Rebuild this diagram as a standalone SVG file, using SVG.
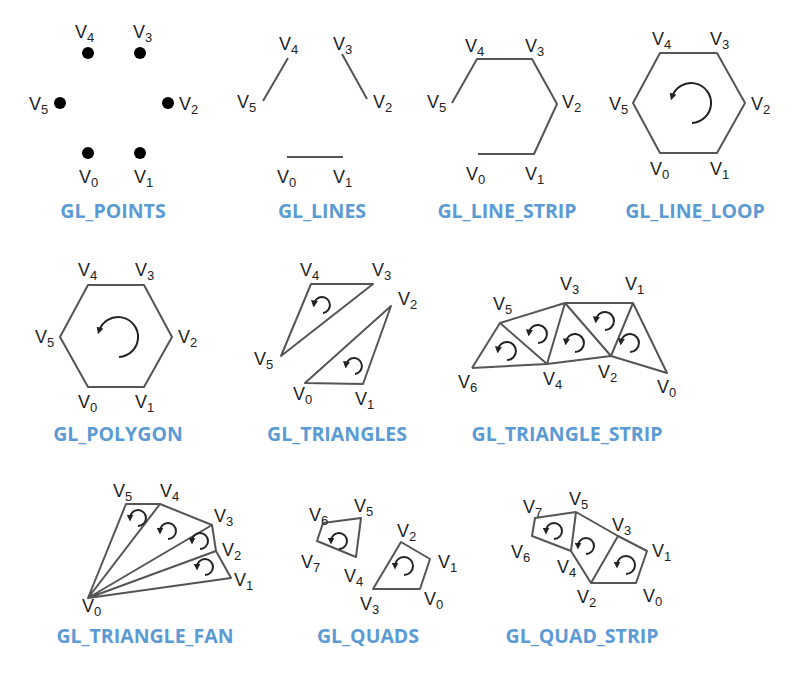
<svg xmlns="http://www.w3.org/2000/svg" width="797" height="676" viewBox="0 0 797 676">
<style>
.v{font-family:"Liberation Sans",Arial,sans-serif;font-size:18px;fill:#222}
.s{font-size:13px}
.t{font-family:"Open Sans","Liberation Sans",sans-serif;font-weight:bold;font-size:19.5px;fill:#5b9bd5;text-anchor:middle}
.e{fill:none;stroke:#555;stroke-width:2;stroke-linejoin:round}
.a{fill:none;stroke:#222;stroke-width:2;marker-end:url(#ah)}
</style>
<defs>
<marker id="ah" viewBox="0 0 10 10" refX="5" refY="5" markerWidth="3.5" markerHeight="3.5" orient="auto" markerUnits="strokeWidth"><path d="M0,0L10,5L0,10z" fill="#222"/></marker>
</defs>
<rect width="797" height="676" fill="#fff"/>
<g id="points">
<circle cx="88" cy="53" r="6"/><circle cx="140" cy="53" r="6"/><circle cx="60" cy="103" r="6"/><circle cx="168" cy="103" r="6"/><circle cx="88" cy="153" r="6"/><circle cx="140" cy="153" r="6"/>
<text class="v" x="75" y="38">V<tspan class="s" dy="4">4</tspan></text>
<text class="v" x="133" y="38">V<tspan class="s" dy="4">3</tspan></text>
<text class="v" x="29" y="110">V<tspan class="s" dy="4">5</tspan></text>
<text class="v" x="179" y="110">V<tspan class="s" dy="4">2</tspan></text>
<text class="v" x="79" y="183">V<tspan class="s" dy="4">0</tspan></text>
<text class="v" x="134" y="183">V<tspan class="s" dy="4">1</tspan></text>
<text class="t" x="113" y="218">GL_POINTS</text>
</g>
<g id="lines">
<path class="e" d="M288,58L263,101M342,54L367,99M287,157L343,157"/>
<text class="v" x="279" y="50">V<tspan class="s" dy="4">4</tspan></text>
<text class="v" x="333" y="50">V<tspan class="s" dy="4">3</tspan></text>
<text class="v" x="237" y="108">V<tspan class="s" dy="4">5</tspan></text>
<text class="v" x="373" y="108">V<tspan class="s" dy="4">2</tspan></text>
<text class="v" x="277" y="183">V<tspan class="s" dy="4">0</tspan></text>
<text class="v" x="333" y="183">V<tspan class="s" dy="4">1</tspan></text>
<text class="t" x="322" y="218">GL_LINES</text>
</g>
<g id="linestrip">
<path class="e" d="M452,103L477,59L532,59L557,104L534,154L478,154"/>
<text class="v" x="465" y="52">V<tspan class="s" dy="4">4</tspan></text>
<text class="v" x="525" y="52">V<tspan class="s" dy="4">3</tspan></text>
<text class="v" x="427" y="108">V<tspan class="s" dy="4">5</tspan></text>
<text class="v" x="562" y="108">V<tspan class="s" dy="4">2</tspan></text>
<text class="v" x="466" y="180">V<tspan class="s" dy="4">0</tspan></text>
<text class="v" x="525" y="180">V<tspan class="s" dy="4">1</tspan></text>
<text class="t" x="507" y="218">GL_LINE_STRIP</text>
</g>
<g id="lineloop">
<path class="e" d="M660,53L717,53L745,103L717,153L660,153L633,103Z"/>
<path class="a" d="M692,123A20,20 0 1 0 672,97"/>
<text class="v" x="652" y="45">V<tspan class="s" dy="4">4</tspan></text>
<text class="v" x="710" y="45">V<tspan class="s" dy="4">3</tspan></text>
<text class="v" x="609" y="110">V<tspan class="s" dy="4">5</tspan></text>
<text class="v" x="751" y="110">V<tspan class="s" dy="4">2</tspan></text>
<text class="v" x="650" y="175">V<tspan class="s" dy="4">0</tspan></text>
<text class="v" x="710" y="175">V<tspan class="s" dy="4">1</tspan></text>
<text class="t" x="695" y="218">GL_LINE_LOOP</text>
</g>
<g id="polygon">
<path class="e" d="M88,285L144,285L172,337L144,387L88,387L60,337Z"/>
<path class="a" d="M119,357A20,20 0 1 0 99,331"/>
<text class="v" x="78" y="276">V<tspan class="s" dy="4">4</tspan></text>
<text class="v" x="135" y="276">V<tspan class="s" dy="4">3</tspan></text>
<text class="v" x="35" y="343">V<tspan class="s" dy="4">5</tspan></text>
<text class="v" x="178" y="343">V<tspan class="s" dy="4">2</tspan></text>
<text class="v" x="78" y="408">V<tspan class="s" dy="4">0</tspan></text>
<text class="v" x="135" y="408">V<tspan class="s" dy="4">1</tspan></text>
<text class="t" x="118" y="441">GL_POLYGON</text>
</g>
<g id="triangles">
<path class="e" d="M311,284L373,284L281,356ZM391,306L363,384L305,383Z"/>
<path class="a" d="M323,313A8,8 0 1 0 314,304"/>
<path class="a" d="M355,374A8,8 0 1 0 346,365"/>
<text class="v" x="300" y="276">V<tspan class="s" dy="4">4</tspan></text>
<text class="v" x="372" y="276">V<tspan class="s" dy="4">3</tspan></text>
<text class="v" x="254" y="365">V<tspan class="s" dy="4">5</tspan></text>
<text class="v" x="398" y="305">V<tspan class="s" dy="4">2</tspan></text>
<text class="v" x="293" y="400">V<tspan class="s" dy="4">0</tspan></text>
<text class="v" x="355" y="405">V<tspan class="s" dy="4">1</tspan></text>
<text class="t" x="337" y="441">GL_TRIANGLES</text>
</g>
<g id="trianglestrip">
<path class="e" d="M472,368L500,323L565,303L633,303L667,373L611,356L547,364L472,368M500,323L547,364L565,303L611,356L633,303"/>
<path class="a" d="M507,360A9,9 0 1 0 498,350"/>
<path class="a" d="M538,343A9,9 0 1 0 529,333"/>
<path class="a" d="M575,352A9,9 0 1 0 566,342"/>
<path class="a" d="M605,330A9,9 0 1 0 596,320"/>
<path class="a" d="M630,352A9,9 0 1 0 621,342"/>
<text class="v" x="493" y="310">V<tspan class="s" dy="4">5</tspan></text>
<text class="v" x="560" y="290">V<tspan class="s" dy="4">3</tspan></text>
<text class="v" x="625" y="290">V<tspan class="s" dy="4">1</tspan></text>
<text class="v" x="458" y="388">V<tspan class="s" dy="4">6</tspan></text>
<text class="v" x="543" y="385">V<tspan class="s" dy="4">4</tspan></text>
<text class="v" x="598" y="378">V<tspan class="s" dy="4">2</tspan></text>
<text class="v" x="657" y="393">V<tspan class="s" dy="4">0</tspan></text>
<text class="t" x="567" y="441">GL_TRIANGLE_STRIP</text>
</g>
<g id="trianglefan">
<path class="e" d="M88,598L126,504L160,504L212,525L216,551L231,578ZM88,598L160,504M88,598L212,525M88,598L216,551"/>
<path class="a" d="M138,526A8,8 0 1 0 130,518"/>
<path class="a" d="M168,539A8,8 0 1 0 160,531"/>
<path class="a" d="M200,549A8,8 0 1 0 192,541"/>
<path class="a" d="M205,575A8,8 0 1 0 197,567"/>
<text class="v" x="113" y="497">V<tspan class="s" dy="4">5</tspan></text>
<text class="v" x="160" y="497">V<tspan class="s" dy="4">4</tspan></text>
<text class="v" x="214" y="522">V<tspan class="s" dy="4">3</tspan></text>
<text class="v" x="222" y="556">V<tspan class="s" dy="4">2</tspan></text>
<text class="v" x="234" y="586">V<tspan class="s" dy="4">1</tspan></text>
<text class="v" x="82" y="612">V<tspan class="s" dy="4">0</tspan></text>
<text class="t" x="145" y="643">GL_TRIANGLE_FAN</text>
</g>
<g id="quads">
<path class="e" d="M323,523L361,518L356,557L317,541ZM401,542L430,559L420,589L373,589Z"/>
<path class="a" d="M339,549A8,8 0 1 0 331,541"/>
<path class="a" d="M404,575A9,9 0 1 0 395,566"/>
<text class="v" x="309" y="521">V<tspan class="s" dy="4">6</tspan></text>
<text class="v" x="354" y="512">V<tspan class="s" dy="4">5</tspan></text>
<text class="v" x="301" y="568">V<tspan class="s" dy="4">7</tspan></text>
<text class="v" x="344" y="582">V<tspan class="s" dy="4">4</tspan></text>
<text class="v" x="397" y="537">V<tspan class="s" dy="4">2</tspan></text>
<text class="v" x="438" y="568">V<tspan class="s" dy="4">1</tspan></text>
<text class="v" x="360" y="610">V<tspan class="s" dy="4">3</tspan></text>
<text class="v" x="424" y="605">V<tspan class="s" dy="4">0</tspan></text>
<text class="t" x="368" y="643">GL_QUADS</text>
</g>
<g id="quadstrip">
<path class="e" d="M535,518L576,512L618,536L647,551L636,583L591,583L571,551L532,536ZM576,512L571,551M618,536L591,583"/>
<path class="a" d="M554,539A8,8 0 1 0 546,531"/>
<path class="a" d="M586,554A8,8 0 1 0 578,546"/>
<path class="a" d="M626,574A9,9 0 1 0 617,565"/>
<text class="v" x="523" y="513">V<tspan class="s" dy="4">7</tspan></text>
<text class="v" x="569" y="505">V<tspan class="s" dy="4">5</tspan></text>
<text class="v" x="612" y="531">V<tspan class="s" dy="4">3</tspan></text>
<text class="v" x="652" y="557">V<tspan class="s" dy="4">1</tspan></text>
<text class="v" x="511" y="558">V<tspan class="s" dy="4">6</tspan></text>
<text class="v" x="557" y="573">V<tspan class="s" dy="4">4</tspan></text>
<text class="v" x="577" y="603">V<tspan class="s" dy="4">2</tspan></text>
<text class="v" x="643" y="602">V<tspan class="s" dy="4">0</tspan></text>
<text class="t" x="582" y="643">GL_QUAD_STRIP</text>
</g>
</svg>
